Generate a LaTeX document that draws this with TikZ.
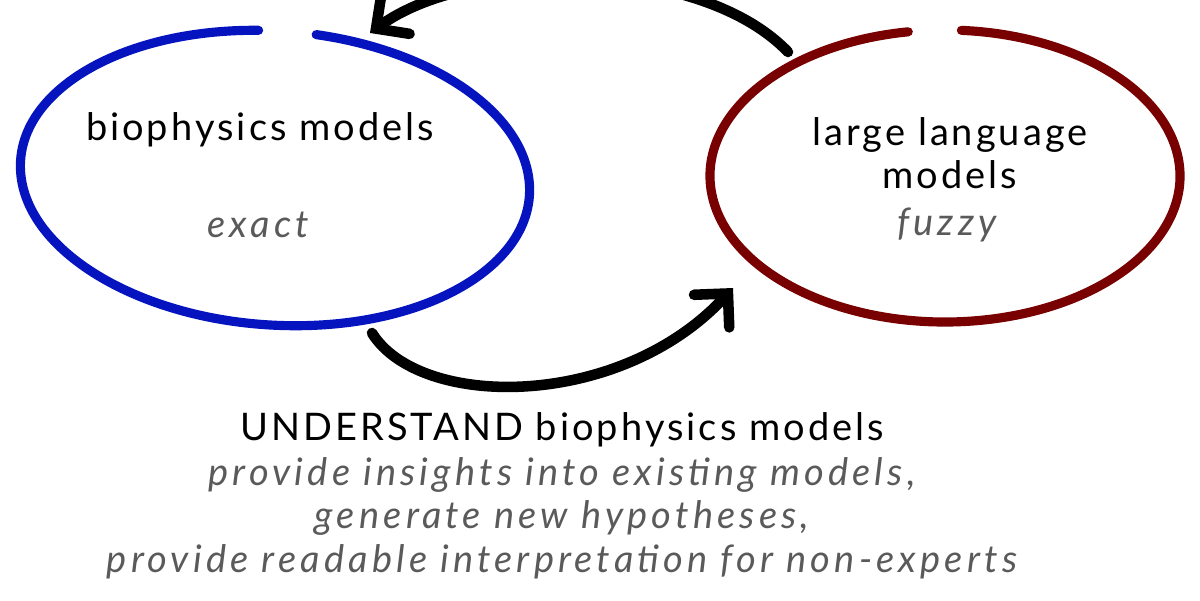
\documentclass[tikz,border=0pt]{standalone}
\usepackage{fontspec}
\setmainfont{Lato}
\usetikzlibrary{arrows.meta}
\definecolor{bioblue}{RGB}{5,20,190}
\definecolor{llmred}{RGB}{120,0,0}
\definecolor{notegray}{RGB}{90,90,90}

\begin{document}
\begin{tikzpicture}[
  x=0.025cm, y=0.025cm,
  lbl/.style={font=\fontsize{27}{31}\selectfont\addfontfeature{LetterSpace=8}, align=center, inner sep=0pt},
  note/.style={lbl, text=notegray, font=\fontsize{27}{31}\selectfont\itshape\addfontfeature{LetterSpace=11}},
  ring/.style={line width=6.5pt, line cap=round},
  ar/.style={line width=7.5pt, line cap=round, -{Straight Barb[length=6mm, width=12mm, line cap=round]}}
]
\useasboundingbox (0,0) rectangle (1200,600);
\clip (0,0) rectangle (1200,600);
% the two model families
\coordinate (bio) at (275,422);
\coordinate (llm) at (945,424);
\draw[ring, bioblue, rotate around={-4:(bio)}] (bio) ++(96:255 and 147) arc[start angle=96, end angle=443, x radius=255, y radius=147];
\draw[ring, llmred]  (llm) ++(99:235 and 146) arc[start angle=99, end angle=446, x radius=235, y radius=146];
\node[lbl]  (biotxt) at (260,470) {biophysics models};
\node[note] (exact)  at (258,375) {exact};
\node[lbl]  (llmtxt) at (950,447) {large language\\models};
\node[note] (fuzzy)  at (947,375) {fuzzy};
% arrows between them
\coordinate (bioout) at (372,267);
\coordinate (llmin)  at (733,312);
\coordinate (llmout) at (788,548);
\coordinate (bioin)  at (370,567);
\draw[ar] (bioout) .. controls (420,190) and (620,190) .. (llmin);
\draw[ar] (llmout) .. controls (700,640) and (470,640) .. (bioin);
% caption
\node[lbl]  (goal) at (562,170) {UNDERSTAND biophysics models};
\node[note] (uses) at (562,82) {provide insights into existing models,\\generate new hypotheses,\\provide readable interpretation for non-experts};
\end{tikzpicture}
\end{document}
